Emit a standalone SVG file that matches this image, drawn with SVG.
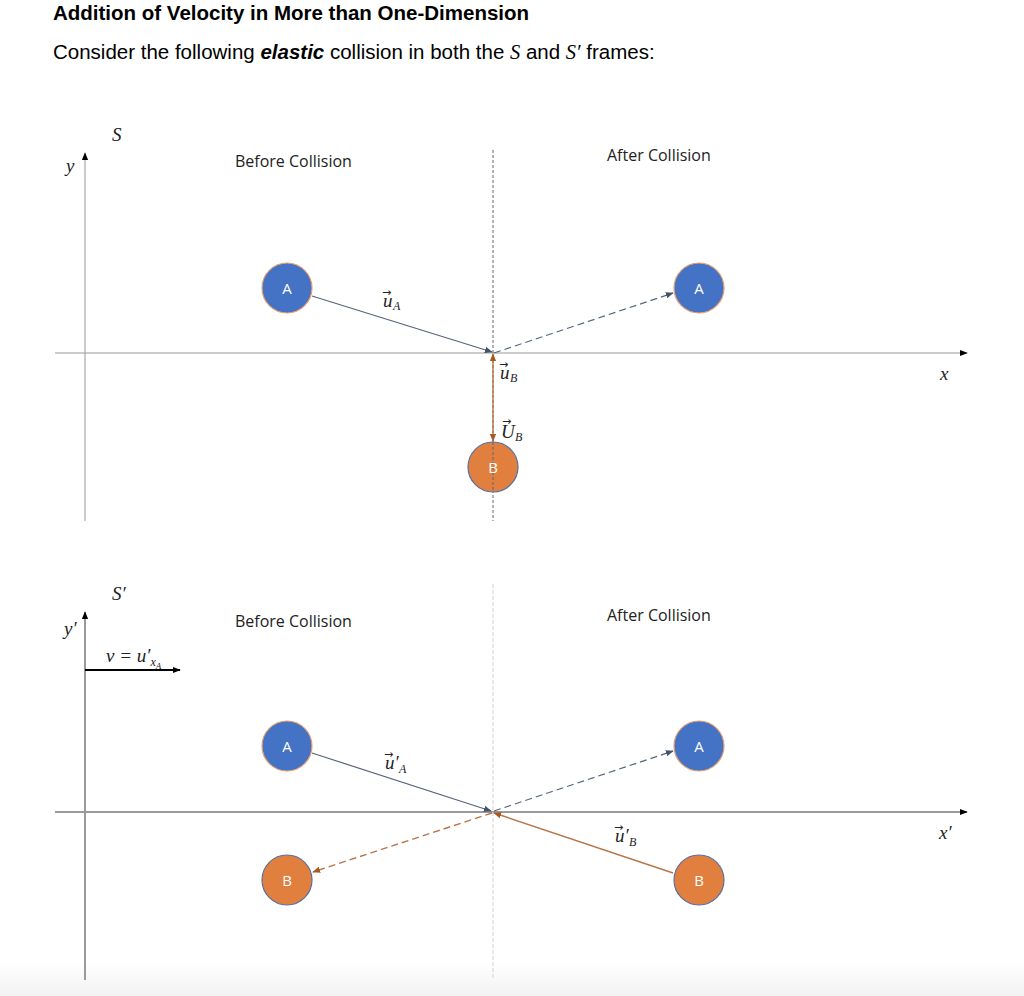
<svg xmlns="http://www.w3.org/2000/svg" width="1024" height="996" viewBox="0 0 1024 996">
<defs>
<linearGradient id="bot" x1="0" y1="0" x2="0" y2="1">
<stop offset="0" stop-color="#ffffff"/>
<stop offset="1" stop-color="#f2f2f2"/>
</linearGradient>
<marker id="axh" viewBox="0 0 10 10" refX="9" refY="5" markerWidth="8" markerHeight="8" orient="auto-start-reverse" markerUnits="userSpaceOnUse"><path d="M0,1 L10,5 L0,9 z" fill="#000"/></marker>
<marker id="sl" viewBox="0 0 10 10" refX="9" refY="5" markerWidth="8" markerHeight="8" orient="auto-start-reverse" markerUnits="userSpaceOnUse"><path d="M0,1 L10,5 L0,9 z" fill="#44546A"/></marker>
<marker id="or" viewBox="0 0 10 10" refX="9" refY="5" markerWidth="8" markerHeight="8" orient="auto-start-reverse" markerUnits="userSpaceOnUse"><path d="M0,1 L10,5 L0,9 z" fill="#A65A22"/></marker>
</defs>
<style>
.title{font-family:"Liberation Sans",Arial,sans-serif;font-size:20.5px;font-weight:bold;fill:#000}
.sub{font-family:"Liberation Sans",Arial,sans-serif;font-size:20.5px;fill:#000}
.cap{font-family:"Open Sans","Liberation Sans",sans-serif;font-size:16px;fill:#222}
.m{font-family:"Liberation Serif","DejaVu Serif",serif;font-style:italic;font-size:19px;fill:#222}
.ms{font-size:12px}
.arr{font-family:"DejaVu Sans",sans-serif;font-style:normal;font-size:11px}
.ax1{stroke:#999;stroke-width:1;fill:none}
.ax2{stroke:#9a9a9a;stroke-width:2;fill:none}
.ca{fill:#4472C4;stroke:#E6A070;stroke-width:1.2}
.cb{fill:#E07F3E;stroke:#5A6FA0;stroke-width:1.2}
.lbl{font-family:"Open Sans","Liberation Sans",sans-serif;font-size:15px;fill:#fff;text-anchor:middle}
.slate{stroke:#56657C;stroke-width:1.2;fill:none}
.slated{stroke:#56657C;stroke-width:1.2;fill:none;stroke-dasharray:7 4}
.orange{stroke:#B87648;stroke-width:1.4;fill:none}
.oranged{stroke:#B87648;stroke-width:1.4;fill:none;stroke-dasharray:7 4}
</style>
<rect x="0" y="0" width="1024" height="996" fill="#fff"/>
<rect x="0" y="962" width="1024" height="34" fill="url(#bot)"/>

<text class="title" x="53" y="20">Addition of Velocity in More than One-Dimension</text>
<text class="sub" x="53" y="59">Consider the following <tspan font-weight="bold" font-style="italic">elastic</tspan> collision in both the <tspan font-family="Liberation Serif,serif" font-style="italic">S</tspan> and <tspan font-family="Liberation Serif,serif" font-style="italic">S′</tspan> frames:</text>

<g id="frameS">
<text class="m" x="112" y="141">S</text>
<text class="m" x="66" y="172">y</text>
<text class="m" x="940" y="380">x</text>
<text class="cap" x="235" y="167">Before Collision</text>
<text class="cap" x="607" y="161">After Collision</text>
</g>

<g id="frameSp">
<text class="m" x="112" y="600">S′</text>
<text class="m" x="64" y="635">y′</text>
<text class="m" x="939" y="839">x′</text>
<text class="cap" x="235" y="627">Before Collision</text>
<text class="cap" x="607" y="621">After Collision</text>
<text class="m" x="106" y="662">v = u′<tspan class="ms" dy="4">x</tspan><tspan font-size="9" dy="3">A</tspan></text>
</g>

<g id="connectors">
<line class="ax1" x1="85" y1="521" x2="85" y2="153" marker-end="url(#axh)"/>
<line class="ax1" x1="55" y1="353" x2="967" y2="353" marker-end="url(#axh)"/>
<line x1="493" y1="150" x2="493" y2="521" stroke="#666" stroke-width="1" stroke-dasharray="3 2"/>
<line class="ax2" x1="85" y1="980" x2="85" y2="612" marker-end="url(#axh)"/>
<line class="ax2" x1="55" y1="812" x2="967" y2="812" marker-end="url(#axh)"/>
<line x1="493" y1="584" x2="493" y2="980" stroke="#d0d0d0" stroke-width="1" stroke-dasharray="4 2"/>
<line x1="85" y1="670" x2="180" y2="670" stroke="#000" stroke-width="2" marker-end="url(#axh)"/>

<line class="slate" x1="312" y1="296" x2="492" y2="352" marker-end="url(#sl)"/>
<line class="slated" x1="494" y1="353" x2="673" y2="293" marker-end="url(#sl)"/>
<line class="orange" x1="493" y1="354" x2="493" y2="441" marker-start="url(#or)" marker-end="url(#or)"/>

<line class="slate" x1="312" y1="753" x2="491" y2="811" marker-end="url(#sl)"/>
<line class="slated" x1="494" y1="811" x2="673" y2="751" marker-end="url(#sl)"/>
<line class="oranged" x1="492" y1="813" x2="313" y2="872" marker-end="url(#or)"/>
<line class="orange" x1="673" y1="873" x2="494" y2="813" marker-end="url(#or)"/>
</g>

<g id="labels">
<text class="m" x="383" y="307">u<tspan class="arr" x="382" y="296">→</tspan><tspan class="ms" x="393" y="310">A</tspan></text>
<text class="m" x="500" y="379">u<tspan class="arr" x="499" y="368">→</tspan><tspan class="ms" x="510" y="382">B</tspan></text>
<text class="m" x="501" y="438">U<tspan class="arr" x="502" y="425">→</tspan><tspan class="ms" x="515" y="441">B</tspan></text>
<text class="m" x="385" y="769">u′<tspan class="arr" x="384" y="758">→</tspan><tspan class="ms" x="399" y="773">A</tspan></text>
<text class="m" x="615" y="842">u′<tspan class="arr" x="614" y="831">→</tspan><tspan class="ms" x="629" y="846">B</tspan></text>
</g>

<g id="A1"><circle class="ca" cx="287" cy="288" r="25"/><text class="lbl" x="287" y="294">A</text></g>
<g id="A2"><circle class="ca" cx="699" cy="288" r="25"/><text class="lbl" x="699" y="294">A</text></g>
<g id="B1"><circle class="cb" cx="493" cy="467" r="25"/><line x1="493" y1="442" x2="493" y2="492" stroke="#666" stroke-width="1" stroke-dasharray="3 2"/><text class="lbl" x="493" y="473">B</text></g>
<g id="A3"><circle class="ca" cx="287" cy="746" r="25"/><text class="lbl" x="287" y="752">A</text></g>
<g id="A4"><circle class="ca" cx="699" cy="746" r="25"/><text class="lbl" x="699" y="752">A</text></g>
<g id="B2"><circle class="cb" cx="287" cy="880" r="25"/><text class="lbl" x="287" y="886">B</text></g>
<g id="B3"><circle class="cb" cx="699" cy="880" r="25"/><text class="lbl" x="699" y="886">B</text></g>
</svg>
